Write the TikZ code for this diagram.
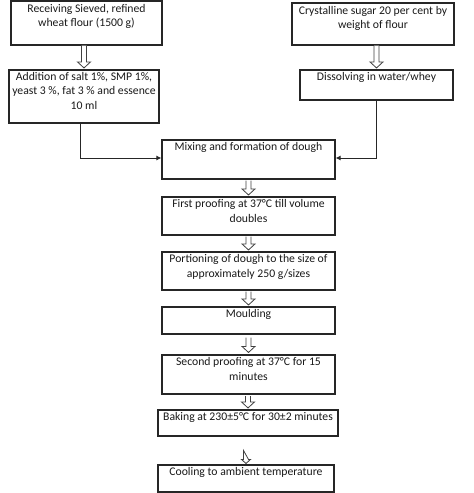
\documentclass[tikz,border=0pt]{standalone}
\usepackage{fontspec}
\setmainfont{Carlito}
\usetikzlibrary{calc,arrows.meta}
\tikzset{
  box/.style={draw=black!85, line width=1.1pt, rectangle, inner sep=0pt},
  txt/.style={anchor=north, align=center, inner sep=0pt, font=\fontsize{11.7}{14.5}\selectfont, text=black!90},
  conn/.style={draw=black!85, line width=1pt, -{Latex[length=5pt,width=5pt]}},
  hol/.style={draw=black!75, line width=0.8pt, fill=white}
}
\newcommand\harrow[4]{%
  \draw[hol] let \p1=(#2.north), \p2=(#1.south) in
    (\x1-2.5pt,\y2-#3) -- (\x1-2.5pt,\y1+#4+6pt) -- (\x1-6.5pt,\y1+#4+6pt) -- (\x1,\y1+#4)
    -- (\x1+6.5pt,\y1+#4+6pt) -- (\x1+2.5pt,\y1+#4+6pt) -- (\x1+2.5pt,\y2-#3);}
\begin{document}
\begin{tikzpicture}[x=1pt,y=-1pt]
\useasboundingbox (0,0) rectangle (474,493);
% boxes
\node[box, minimum width=151, minimum height=44] (b1) at (86.5,23) {};
\node[box, minimum width=162, minimum height=42] (b2) at (373,24) {};
\node[box, minimum width=150, minimum height=53] (b3) at (84,96.5) {};
\node[box, minimum width=153, minimum height=30] (b4) at (376.5,85) {};
\node[box, minimum width=173, minimum height=39] (mix) at (248.5,159.5) {};
\node[box, minimum width=173, minimum height=38] (fp) at (248.5,216) {};
\node[box, minimum width=173, minimum height=38] (por) at (248.5,271) {};
\node[box, minimum width=173, minimum height=27] (mou) at (248.5,320.5) {};
\node[box, minimum width=173, minimum height=39] (sp) at (248.5,374.5) {};
\node[box, minimum width=180, minimum height=26] (bak) at (248,423) {};
\node[box, minimum width=176, minimum height=27] (cool) at (246,478.5) {};
% texts
\node[txt] (t1) at ([yshift=-3.5]b1.north) {Receiving Sieved, refined\\wheat flour (1500 g)};
\node[txt] (t2) at ([yshift=-3.5]b2.north) {Crystalline sugar 20 per cent by\\weight of flour};
\node[txt] (t3) at ([yshift=-2.5]b3.north) {Addition of salt 1\%, SMP 1\%,\\yeast 3 \%, fat 3 \% and essence\\10 ml};
\node[txt] (t4) at ([yshift=-3]b4.north) {Dissolving in water/whey};
\node[txt] (tm) at ([yshift=-3]mix.north) {Mixing and formation of dough};
\node[txt] (tf) at ([yshift=-3]fp.north) {First proofing at 37°C till volume\\doubles};
\node[txt] (tp) at ([yshift=-3]por.north) {Portioning of dough to the size of\\approximately 250 g/sizes};
\node[txt] (to) at ([yshift=-3]mou.north) {Moulding};
\node[txt] (ts) at ([yshift=-3]sp.north) {Second proofing at 37°C for 15\\minutes};
\node[txt] (tb) at ([yshift=-3]bak.north) {Baking at 230±5°C for 30±2 minutes};
\node[txt] (tc) at ([yshift=-3]cool.north) {Cooling to ambient temperature};
% hollow arrows
\harrow{b1}{b3}{0pt}{1.5pt}
\harrow{b2}{b4}{0pt}{1.5pt}
\harrow{mix}{fp}{1pt}{1.5pt}
\harrow{fp}{por}{1pt}{1.5pt}
\harrow{por}{mou}{1pt}{1.5pt}
\harrow{mou}{sp}{3pt}{2pt}
\harrow{sp}{bak}{1.5pt}{1.5pt}
\draw[hol] let \p1=(cool.north) in
  (\x1-2.5pt,\y1+14pt) -- (\x1-2.5pt,\y1+5pt) -- (\x1-4.5pt,\y1+5pt) -- (\x1,\y1+1pt)
  -- (\x1+4.5pt,\y1+5pt) -- (\x1+2.5pt,\y1+5pt) -- cycle;
% connectors
\draw[conn] ([xshift=-4]b3.south) |- ([yshift=1.5]mix.west);
\draw[conn] (b4.south) |- ([yshift=1.5]mix.east);
\end{tikzpicture}
\end{document}
